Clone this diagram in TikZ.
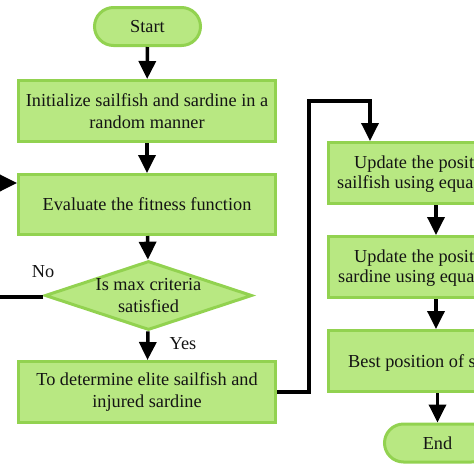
\documentclass[tikz,border=0pt]{standalone}
\usepackage{fontspec}
\setmainfont{Liberation Serif}
\usetikzlibrary{shapes.geometric,arrows.meta,calc}
\definecolor{boxfill}{RGB}{184,232,130}
\definecolor{boxline}{RGB}{146,210,80}
\definecolor{inkc}{RGB}{20,20,20}
\begin{document}
\begin{tikzpicture}[x=1pt,y=-1pt,
  font=\fontsize{18.3}{21.5}\selectfont,
  procbox/.style={draw=boxline,fill=boxfill,line width=3pt,minimum height=61pt,inner sep=0pt,align=center,text=inkc},
  termbox/.style={procbox,rounded corners=19pt,minimum width=106pt,minimum height=38pt},
  decbox/.style={diamond,draw=boxline,fill=boxfill,line width=3pt,minimum width=200pt,minimum height=64pt,inner sep=0pt,align=center,aspect=3,text=inkc},
  flow/.style={line width=3.5pt,draw=black,-{Triangle[length=18pt,width=17pt]}},
  lbl/.style={inner sep=0pt,text=inkc}]
\useasboundingbox (0,0) rectangle (474,474);
\clip (0,0) rectangle (474,474);
\fill[white] (0,0) rectangle (474,474);
% left column
\node[termbox] (start) at (147.5,26.5) {Start};
\node[procbox,minimum width=257pt] (init) at (147,111) {Initialize sailfish and sardine in a\\random manner};
\node[procbox,minimum width=257pt,minimum height=60pt] (eval) at (147,204.5) {Evaluate the fitness function};
\node[decbox] (dec) at (148.5,295.5) {Is max criteria\\satisfied};
\node[procbox,minimum width=257pt] (det) at (147,392) {To determine elite sailfish and\\injured sardine};
% right column
\node[procbox,minimum width=215pt] (up1) at (436,173) {};
\node[procbox,minimum width=215pt] (up2) at (436,267) {};
\node[procbox,minimum width=215pt] (best) at (436,361) {};
\node[termbox] (end) at (437.5,443) {End};
\node[lbl,anchor=base west] (up1a) at (354,168) {Update the posit};
\node[lbl,anchor=base west] (up1b) at (337,188) {sailfish using equa};
\node[lbl,anchor=base west] (up2a) at (354,262) {Update the posit};
\node[lbl,anchor=base west] (up2b) at (338,282) {sardine using equa};
\node[lbl,anchor=base west] (besta) at (348,367) {Best position of s};
% labels
\node[lbl] (no) at (43,272) {No};
\node[lbl] (yes) at (183,344) {Yes};
% connectors
\draw[flow] (start) -- (init);
\draw[flow] (init) -- (eval);
\draw[flow] (eval) -- (dec);
\draw[flow] (dec) -- (det);
\coordinate (loopL) at (-20,297);
\coordinate (evin) at ($(eval.north west)+(0,10)$);
\draw[flow] (dec.west |- loopL) -- (loopL) |- (evin);
\coordinate (r1) at (309,392);
\coordinate (r2) at (309,101);
\coordinate (r3) at (370,101);
\draw[flow] (det.east |- r1) -- (r1) -- (r2) -- (r3) -- (r3 |- up1.north);
\draw[flow] (up1) -- (up2);
\draw[flow] (up2) -- (best);
\draw[flow] (best.south -| end) -- (end.north);
\end{tikzpicture}
\end{document}
